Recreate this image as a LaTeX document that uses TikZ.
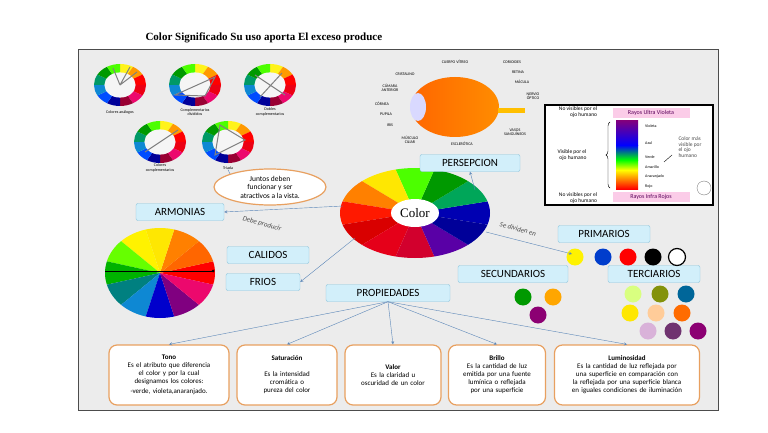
\documentclass[tikz,border=0pt]{standalone}
\usepackage{fontspec}
\setmainfont{Liberation Serif}
\newfontfamily\sansf{Carlito}
\usetikzlibrary{shapes.geometric,decorations.pathreplacing}
\definecolor{panel}{HTML}{ECECEC}
\definecolor{boxfill}{HTML}{D2EFFA}
\definecolor{boxline}{HTML}{8CC4DC}
\definecolor{arr}{HTML}{5B86B8}
\definecolor{orng}{HTML}{E8A060}
\tikzset{
 lbl/.style={draw=boxline,fill=boxfill,rounded corners=2pt,minimum height=17pt,font=\sansf\fontsize{11}{11}\selectfont},
 pbox/.style={draw=orng,line width=1.2pt,fill=white,rounded corners=8pt,minimum height=60pt,align=center,font=\sansf\fontsize{7}{8}\selectfont,execute at begin node={\hyphenpenalty=10000\relax},inner sep=2pt},
 con/.style={draw=arr,->,>=stealth},
 dot/.style={circle,minimum size=17pt,inner sep=0pt},
 tiny/.style={font=\sansf\fontsize{4}{4.5}\selectfont,align=center,inner sep=0pt},
 elab/.style={font=\sansf\itshape\fontsize{7}{7}\selectfont,text=black!70,rotate=-15}
}
\newcommand{\ringwheel}[4]{% x y rx ry
 \foreach \c [count=\i from 0] in {yellow!90!white,orange!80!yellow,red,red!70!purple,magenta!70!red,purple!80!black,blue!60!black,blue!70!cyan,cyan!70!blue,teal!80!green,green!60!black,green!70!yellow}{
  \fill[\c] (#1,#2) -- ++({#3*cos(90-\i*30)},{-#4*sin(90-\i*30)}) arc[start angle={90-\i*30},end angle={60-\i*30},x radius=#3,y radius=-#4] -- cycle;}
 \fill[white!92!gray] (#1,#2) ellipse[x radius=0.6*#3,y radius=0.6*#4];
}
\begin{document}
\begin{tikzpicture}[x=1pt,y=-1pt]
\useasboundingbox (0,0) rectangle (768,433);
\fill[white] (0,0) rectangle (768,433);
\node[font=\bfseries\fontsize{11}{11}\selectfont,anchor=west] (title) at (142,38) {Color Significado Su uso aporta El exceso produce};
\draw[black!70,fill=panel,line width=1pt] (78,50) rectangle (718,410);
% harmony wheels
\ringwheel{120}{85}{26}{21}
\ringwheel{195}{85}{26}{21}
\ringwheel{270}{85}{26}{21}
\ringwheel{160}{142}{26}{21}
\ringwheel{228}{142}{26}{21}
\node[tiny] (w1) at (120,112) {Colores análogos};
\node[tiny] (w2) at (195,112) {Complementarios\\divididos};
\node[tiny] (w3) at (270,112) {Dobles\\complementarios};
\node[tiny] (w4) at (160,168) {Colores\\complementarios};
\node[tiny] (w5) at (228,168) {Tríada};
\draw[gray,line width=1pt] (120,85)--(113,68) (120,85)--(130,67) (120,85)--(137,72);
\draw[gray,line width=1pt] (175,95)--(215,77)--(205,96)--cycle;
\draw[gray,line width=1pt] (255,75)--(285,95) (260,97)--(282,73);
\draw[gray,line width=1pt] (145,152)--(178,130);
\draw[gray,line width=1pt] (220,125)--(245,140)--(215,155)--cycle;
% eye
\shade[left color=orange!80!red,right color=orange!90!yellow] (455,107) ellipse[x radius=44,y radius=30];
\fill[white!85!blue] (418,107) ellipse[x radius=8,y radius=14];
\fill[orange!50!yellow] (498,108) rectangle (525,113);
\node[tiny] (e1) at (455,62) {CUERPO VÍTREO};
\node[tiny] (e2) at (512,62) {CORIOIDES};
\node[tiny] (e3) at (518,72) {RETINA};
\node[tiny] (e4) at (522,82) {MÁCULA};
\node[tiny] (e5) at (533,96) {NERVIO\\ÓPTICO};
\node[tiny] (e6) at (405,74) {CRISTALINO};
\node[tiny] (e7) at (390,88) {CÁMARA\\ANTERIOR};
\node[tiny] (e8) at (382,104) {CÓRNEA};
\node[tiny] (e9) at (386,114) {PUPILA};
\node[tiny] (e10) at (390,125) {IRIS};
\node[tiny] (e11) at (410,140) {MÚSCULO\\CILIAR};
\node[tiny] (e12) at (462,144) {ESCLERÓTICA};
\node[tiny] (e13) at (515,132) {VASOS\\SANGUÍNEOS};
% spectrum panel
\draw[black,line width=1.5pt,fill=white] (545,105) rectangle (713,205);
\fill[magenta!20] (613,108) rectangle (690,118);
\node[font=\sansf\fontsize{6}{6}\selectfont,text=violet!70!black] (uv) at (651,113) {Rayos Ultra Violeta};
\fill[magenta!20] (613,192) rectangle (690,202);
\node[font=\sansf\fontsize{6}{6}\selectfont,text=violet!70!black] (ir) at (651,197) {Rayos Infra Rojos};
\shade[top color=violet,bottom color=blue] (616,121) rectangle (638,145);
\shade[top color=blue,bottom color=green] (616,145) rectangle (638,160);
\shade[top color=green,bottom color=yellow] (616,160) rectangle (638,170);
\shade[top color=yellow,bottom color=red] (616,170) rectangle (638,189);
\node[font=\sansf\fontsize{5.5}{5.5}\selectfont,align=right] (nv1) at (578,112) {No visibles por el\\ojo humano};
\node[font=\sansf\fontsize{5.5}{5.5}\selectfont,align=right] (nv2) at (578,198) {No visibles por el\\ojo humano};
\node[font=\sansf\fontsize{5.5}{5.5}\selectfont,align=right] (vis) at (572,155) {Visible por el\\ojo humano};
\draw[decorate,decoration={brace,amplitude=4pt}] (610,188)--(610,122);
\node[font=\sansf\fontsize{5.5}{5.5}\selectfont,align=left,text=black!70] (mas) at (690,147) {Color más\\visible por\\el ojo\\humano};
\node[tiny,anchor=west] (s1) at (645,126) {Violeta};
\node[tiny,anchor=west] (s2) at (645,143) {Azul};
\node[tiny,anchor=west] (s3) at (645,157) {Verde};
\node[tiny,anchor=west] (s4) at (645,167) {Amarillo};
\node[tiny,anchor=west] (s5) at (645,176) {Anaranjado};
\node[tiny,anchor=west] (s6) at (645,186) {Rojo};
\draw (664,162)--(672,155);
\draw[gray] (704,188) circle[radius=7];
% center color wheel
\foreach \a/\c in {0/blue!70!black,30/teal!70!green,60/green!60!black,90/green!70!yellow,120/yellow!90!orange,150/orange,180/red!80!orange,210/red!85!black,240/red!60!purple,270/purple!70!red,300/violet!70!blue,330/blue!60!black}{
 \fill[\c] (415,213) -- ++({75*cos(\a-15)},{-45*sin(\a-15)}) arc[start angle=\a-15,end angle=\a+15,x radius=75,y radius=-45] -- cycle;}
\fill[white] (415,213) ellipse[x radius=24,y radius=14];
\node[font=\fontsize{13}{13}\selectfont] (color) at (415,213) {Color};
% big wheel
\foreach \a/\c in {0/red,30/orange!80!red,60/orange,90/yellow!90!orange,120/yellow,150/green!60!yellow,180/green!70!black,210/teal,240/cyan!70!blue,270/blue!80!black,300/violet,330/magenta!70!red}{
 \fill[\c] (160,273) -- ++({55*cos(\a-15)},{-45*sin(\a-15)}) arc[start angle=\a-15,end angle=\a+15,x radius=55,y radius=-45] -- cycle;}
\draw[black,line width=0.8pt] (105,271)--(213,271);
\fill (213,271) circle[radius=1.5];
% labels
\node[lbl,minimum width=100pt] (pers) at (470,163) {PERSEPCION};
\node[draw=orng,line width=1.2pt,fill=white,ellipse,minimum width=112pt,minimum height=36pt,font=\sansf\fontsize{7.5}{8.5}\selectfont,align=center,inner sep=0pt] (juntos) at (270,187) {Juntos deben\\funcionar y ser\\atractivos a la vista.};
\node[lbl,minimum width=88pt] (arm) at (180,212) {ARMONIAS};
\node[lbl,minimum width=82pt] (cal) at (268,255) {CALIDOS};
\node[lbl,minimum width=74pt] (fri) at (263,282) {FRIOS};
\node[lbl,minimum width=124pt] (prop) at (388,293) {PROPIEDADES};
\node[lbl,minimum width=92pt] (prim) at (604,234) {PRIMARIOS};
\node[lbl,minimum width=110pt] (sec) at (513,274) {SECUNDARIOS};
\node[lbl,minimum width=92pt] (ter) at (654,274) {TERCIARIOS};
% dots
\node[dot,fill=yellow] (p1) at (575,257) {};
\node[dot,fill=blue!70!cyan!80!black] (p2) at (603,257) {};
\node[dot,fill=red] (p3) at (628,257) {};
\node[dot,fill=black] (p4) at (653,257) {};
\node[dot,fill=white,draw=black,line width=1.2pt] (p5) at (677,257) {};
\node[dot,fill=green!60!black] (s1d) at (523,297) {};
\node[dot,fill=orange!70!yellow] (s2d) at (553,297) {};
\node[dot,fill=violet!80!purple] (s3d) at (538,315) {};
\node[dot,fill=green!30!yellow!50!white] (t1) at (633,294) {};
\node[dot,fill=olive!80!green] (t2) at (660,294) {};
\node[dot,fill=teal!80!blue] (t3) at (686,294) {};
\node[dot,fill=yellow!90!orange] (t4) at (630,313) {};
\node[dot,fill=orange!40!white] (t5) at (656,313) {};
\node[dot,fill=orange!85!red] (t6) at (682,313) {};
\node[dot,fill=violet!30!white] (t7) at (648,331) {};
\node[dot,fill=violet!60!black!80] (t8) at (673,331) {};
\node[dot,fill=violet!80!purple] (t9) at (698,331) {};
% property boxes
\node[pbox,text width=96pt,minimum width=120pt] (tono) at (169,375) {\textbf{Tono}\\Es el atributo que diferencia el color y por la cual designamos los colores:\\[2pt]-verde, violeta,anaranjado.};
\node[pbox,text width=72pt,minimum width=100pt] (sat) at (287,375) {\textbf{Saturación}\\[8pt]Es la intensidad cromática o pureza del color};
\node[pbox,text width=70pt,minimum width=96pt] (val) at (393,375) {\textbf{Valor}\\Es la claridad u oscuridad de un color};
\node[pbox,text width=68pt,minimum width=97pt] (bri) at (497,375) {\textbf{Brillo}\\Es la cantidad de luz emitida por una fuente lumínica o reflejada por una superficie};
\node[pbox,text width=120pt,minimum width=145pt] (lum) at (627,375) {\textbf{Luminosidad}\\Es la cantidad de luz reflejada por una superficie en comparación con la reflejada por una superficie blanca en iguales condiciones de iluminación};
% connectors
\draw[con] (475,190) -- (pers.south);
\draw[con] (343,206) -- (arm.east);
\node[elab] (debe) at (262,224) {Debe producir};
\draw[con] (355,238) -- (fri.east);
\draw[con] (486,232) -- (572,254);
\node[elab] (divid) at (518,229) {Se dividen en};
\draw[arr] (juntos.north west) -- (w5.south);
\foreach \t in {tono,sat,val,bri,lum}{\draw[con] (prop.south) -- (\t.north);}
\end{tikzpicture}
\end{document}
